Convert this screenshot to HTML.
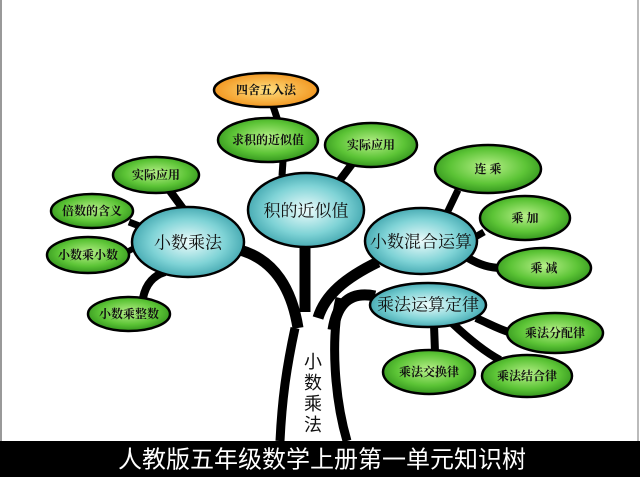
<!DOCTYPE html>
<html><head><meta charset="utf-8"><style>
html,body{margin:0;padding:0;background:#fff;}
svg{display:block;}
text{font-family:"Liberation Serif","Noto Serif CJK SC","Noto Sans CJK SC",serif;fill:#111;text-anchor:middle;dominant-baseline:central;}
</style></head><body>
<svg width="640" height="477" viewBox="0 0 640 477" xmlns="http://www.w3.org/2000/svg">
<defs>
<radialGradient id="g" cx="50%" cy="45%" r="60%"><stop offset="0" stop-color="#b8f08a"/><stop offset="0.6" stop-color="#5cc436"/><stop offset="1" stop-color="#2a8a18"/></radialGradient>
<radialGradient id="b" cx="50%" cy="50%" r="60%"><stop offset="0" stop-color="#eefcfc"/><stop offset="0.55" stop-color="#7fd3d6"/><stop offset="1" stop-color="#2a95a0"/></radialGradient>
<radialGradient id="o" cx="50%" cy="50%" r="60%"><stop offset="0" stop-color="#ffe080"/><stop offset="1" stop-color="#f08a10"/></radialGradient>
</defs>
<rect x="0" y="0" width="640" height="477" fill="#fff"/>
<line x1="1" y1="0" x2="1" y2="441" stroke="#999" stroke-width="2"/>
<line x1="638" y1="0" x2="638" y2="441" stroke="#bbb" stroke-width="2"/>
<g fill="none" stroke="#000" stroke-linecap="butt">
<!-- trunk & main branches -->
<path d="M240 250 C275 260 292 290 298 328" stroke-width="11"/>
<path d="M295 328 C286 370 282 400 280 441" stroke-width="9"/>
<path d="M305 245 L305 312" stroke-width="11"/>
<path d="M378 262 C345 278 325 295 318 318" stroke-width="11"/>
<path d="M375 296 C345 290 336 310 333 330" stroke-width="11"/>
<path d="M340 298 C330 340 335 400 347 441" stroke-width="9"/>
<!-- leaf connectors -->
<path d="M273 106 L278 121" stroke-width="7"/>
<path d="M283 161 L282 176" stroke-width="7"/>
<path d="M170 191 L184 210" stroke-width="8"/>
<path d="M129 222 L142 227" stroke-width="7"/>
<path d="M127 252 L136 247" stroke-width="6"/>
<path d="M143 298 C146 283 155 275 165 272" stroke-width="8"/>
<path d="M352 164 L340 180" stroke-width="8"/>
<path d="M458 190 L447 213" stroke-width="7"/>
<path d="M484 232 L470 240" stroke-width="7"/>
<path d="M468 258 C480 265 490 268 502 268" stroke-width="8"/>
<path d="M476 318 C490 324 500 330 512 333" stroke-width="8"/>
<path d="M434 325 L435 352" stroke-width="8"/>
<path d="M452 323 C470 340 485 352 500 360" stroke-width="8"/>
</g>
<g stroke="#000" stroke-width="2.5">
<ellipse cx="266" cy="90" rx="52" ry="17" fill="url(#o)"/>
<ellipse cx="268" cy="140" rx="50" ry="22" fill="url(#g)"/>
<ellipse cx="156" cy="175" rx="43" ry="18" fill="url(#g)"/>
<ellipse cx="92" cy="211" rx="41" ry="17" fill="url(#g)"/>
<ellipse cx="88" cy="255" rx="41" ry="18" fill="url(#g)"/>
<ellipse cx="129" cy="314" rx="41" ry="17" fill="url(#g)"/>
<ellipse cx="371" cy="145" rx="46" ry="22" fill="url(#g)"/>
<ellipse cx="488" cy="169" rx="53" ry="24" fill="url(#g)"/>
<ellipse cx="525" cy="218" rx="45" ry="22" fill="url(#g)"/>
<ellipse cx="544" cy="268" rx="47" ry="20" fill="url(#g)"/>
<ellipse cx="555" cy="333" rx="48" ry="20" fill="url(#g)"/>
<ellipse cx="429" cy="372" rx="46" ry="22" fill="url(#g)"/>
<ellipse cx="527" cy="376" rx="45" ry="21" fill="url(#g)"/>
<ellipse cx="188" cy="242" rx="56" ry="35" fill="url(#b)"/>
<ellipse cx="306" cy="210" rx="58" ry="37" fill="url(#b)"/>
<ellipse cx="421" cy="241" rx="56" ry="33" fill="url(#b)"/>
<ellipse cx="428" cy="305" rx="58" ry="22" fill="url(#b)"/>
</g>
<g font-size="12" font-weight="bold">
<text x="266" y="90">四舍五入法</text>
<text x="268" y="140">求积的近似值</text>
<text x="156" y="175">实际应用</text>
<text x="92" y="211">倍数的含义</text>
<text x="88" y="255">小数乘小数</text>
<text x="129" y="314">小数乘整数</text>
<text x="371" y="145">实际应用</text>
<text x="488" y="169">连 乘</text>
<text x="525" y="218">乘 加</text>
<text x="544" y="268">乘 减</text>
<text x="555" y="333">乘法分配律</text>
<text x="429" y="372">乘法交换律</text>
<text x="527" y="376">乘法结合律</text>
</g>
<g font-size="17">
<text x="188" y="243">小数乘法</text>
<text x="306" y="211">积的近似值</text>
<text x="421" y="242">小数混合运算</text>
<text x="428" y="305">乘法运算定律</text>
</g>
<g font-size="18" font-family="Liberation Sans,Noto Sans CJK SC,sans-serif">
<text x="313" y="362" style="font-family:'Liberation Sans','Noto Sans CJK SC',sans-serif">小</text>
<text x="313" y="383" style="font-family:'Liberation Sans','Noto Sans CJK SC',sans-serif">数</text>
<text x="313" y="404" style="font-family:'Liberation Sans','Noto Sans CJK SC',sans-serif">乘</text>
<text x="313" y="425" style="font-family:'Liberation Sans','Noto Sans CJK SC',sans-serif">法</text>
</g>
<rect x="0" y="441" width="640" height="36" fill="#000"/>
<text x="322" y="460" font-size="24" style="fill:#fff;font-family:'Liberation Sans','Noto Sans CJK SC',sans-serif">人教版五年级数学上册第一单元知识树</text>
</svg>
</body></html>
